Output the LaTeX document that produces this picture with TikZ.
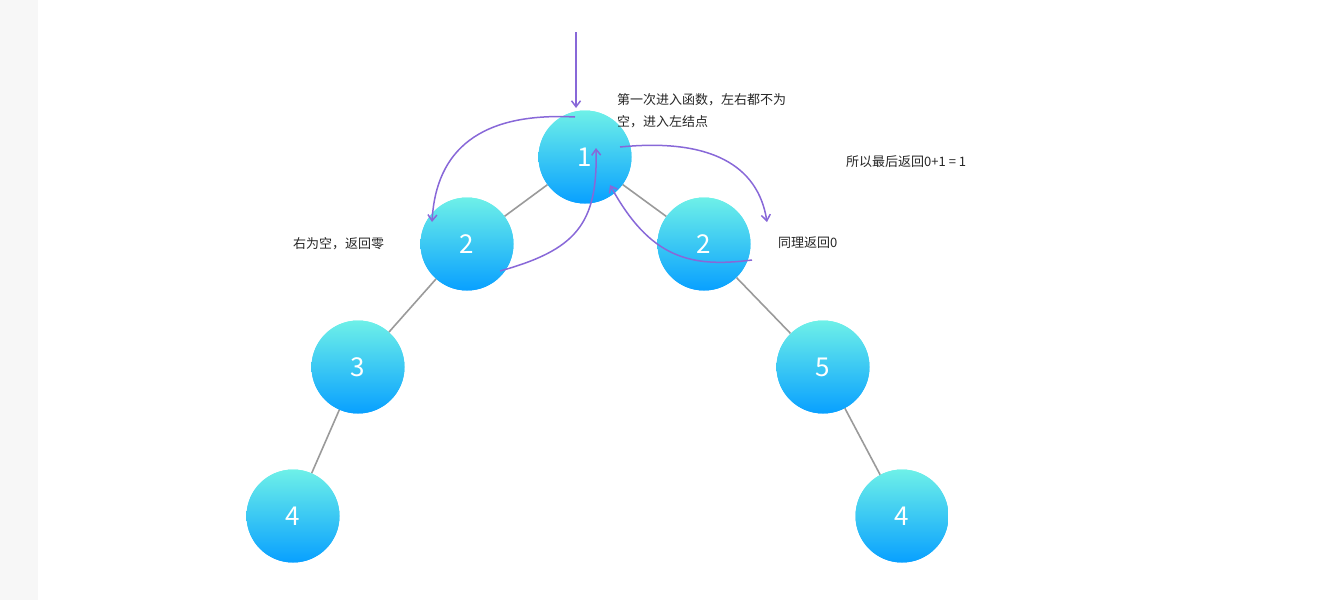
\documentclass[tikz,border=0pt]{standalone}
\usepackage{fontspec}
\setmainfont{Noto Sans CJK SC}
\usetikzlibrary{arrows.meta}
\definecolor{pur}{HTML}{8868D8}
\definecolor{edg}{HTML}{9A9A9A}
\begin{document}
\begin{tikzpicture}[x=1pt,y=-1pt,
  tn/.style={circle,minimum size=93pt,inner sep=0pt,top color=cyan!45!green!25!cyan!70!white,bottom color=blue!20!cyan!90!blue,draw=none,text=white,font=\fontsize{26}{26}\selectfont},
  ed/.style={draw=edg,line width=1.6pt},
  pa/.style={draw=pur,line width=1.5pt,-{Straight Barb[length=6pt,width=9pt]}},
  lb/.style={anchor=west,font=\fontsize{13}{16}\selectfont,text=black!85,inner sep=0pt}]
\useasboundingbox (0,0) rectangle (1338,600);
\fill[black!3] (0,0) rectangle (38,600);
\tikzset{tn/.append style={top color={rgb,255:red,110;green,240;blue,232},bottom color={rgb,255:red,8;green,160;blue,255}}}
\node[tn] (n1) at (585,157) {1};
\node[tn] (n2) at (467,244) {2};
\node[tn] (n2r) at (704,244) {2};
\node[tn] (n3) at (358,367) {3};
\node[tn] (n5) at (823,367) {5};
\node[tn] (n4) at (293,516) {4};
\node[tn] (n4r) at (902,516) {4};
\begin{scope}[on background layer/.style={}]
\end{scope}
\draw[ed] (n1) -- (n2);
\draw[ed] (n1) -- (n2r);
\draw[ed] (n2) -- (n3);
\draw[ed] (n3) -- (n4);
\draw[ed] (n2r) -- (n5);
\draw[ed] (n5) -- (n4r);
\node[tn] at (585,157) {1};
\node[tn] at (467,244) {2};
\node[tn] at (704,244) {2};
\node[tn] at (358,367) {3};
\node[tn] at (823,367) {5};
\node[tn] at (293,516) {4};
\node[tn] at (902,516) {4};
\coordinate (s0) at (576,32);
\coordinate (e0) at (576,108);
\draw[pa] (s0) -- (e0);
\coordinate (s1) at (575,117);
\coordinate (e1) at (432,222);
\draw[pa] (s1) .. controls (480,112) and (436,150) .. (e1);
\coordinate (s2) at (620,147);
\coordinate (e2) at (767,222);
\draw[pa] (s2) .. controls (710,138) and (758,165) .. (e2);
\coordinate (s3) at (500,271);
\coordinate (e3) at (596,148);
\draw[pa] (s3) .. controls (575,250) and (598,225) .. (e3);
\coordinate (s4) at (752,260);
\coordinate (e4) at (610,185);
\draw[pa] (s4) .. controls (690,268) and (650,258) .. (e4);
\node[lb] (t1) at (617,100) {第一次进入函数，左右都不为};
\node[lb] (t2) at (617,122) {空，进入左结点};
\node[lb] (t3) at (846,162) {所以最后返回0+1 = 1};
\node[lb] (t4) at (293,244) {右为空，返回零};
\node[lb] (t5) at (778,243) {同理返回0};
\end{tikzpicture}
\end{document}
